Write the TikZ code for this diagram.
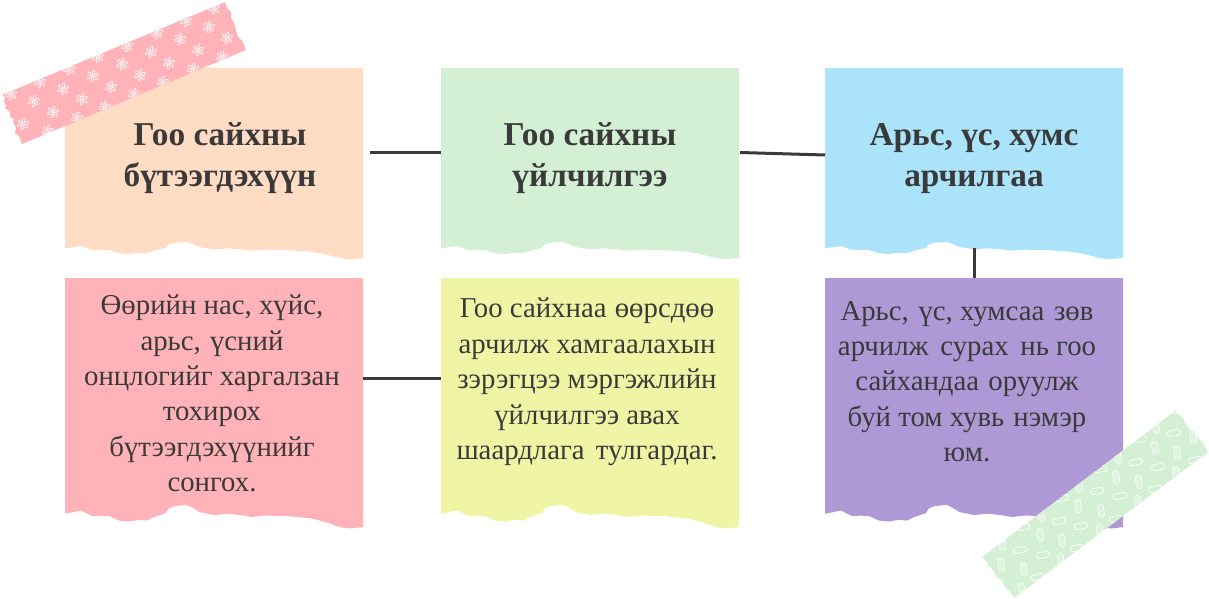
\documentclass[tikz,border=0pt]{standalone}
\usepackage{fontspec}
\setmainfont{Liberation Serif}
\definecolor{peach}{HTML}{FFDCC3}
\definecolor{mint}{HTML}{D4F0D4}
\definecolor{sky}{HTML}{ABE4FA}
\definecolor{rosy}{HTML}{FFB3B8}
\definecolor{lemon}{HTML}{F0F5A5}
\definecolor{lilac}{HTML}{AE98D6}
\definecolor{ink}{HTML}{3A3A3A}
\tikzset{
  boxnode/.style={rectangle,inner sep=0pt,minimum width=298pt,minimum height=#1,anchor=north west},
  headtext/.style={text=ink,align=center,inner sep=0pt,font=\fontsize{33.3}{41}\selectfont\bfseries},
  bodytext/.style={text=ink,align=center,inner sep=0pt,font=\fontsize{28.8}{35.4}\selectfont},
  link/.style={draw=ink,line width=3pt},
  petal/.style={draw=white,line width=0.55pt},
  pillh/.style={draw=white,line width=0.7pt,rounded corners=2.8pt},
}
% torn paper: x, top, peak y of the torn edge, vertical scale, colour
\newcommand{\tornpaper}[5]{%
  \pgfmathsetmacro{\tornTop}{(#2-#3)/#4}
  \begin{scope}[shift={(#1,#3)},yscale=#4]
    \fill[#5] (0,\tornTop) -- (298,\tornTop) -- (298,16) -- (286,17) -- (276,16.3) -- (259,12) -- (246,9.7) -- (222,8) -- (199,7.7) -- (187,8.7) -- (176,7.3) -- (162,6.3) -- (149,7.3) -- (143,6.3) -- (135,5.3) -- (130,3) -- (122,0) -- (110,0.7) -- (104,2.3) -- (100.7,6) -- (89,8.7) -- (82,11.3) -- (74,10.7) -- (64,12) -- (54,11.3) -- (44,8) -- (35.7,7.7) -- (27.3,8) -- (20.7,5.7) -- (15.7,4) -- (7.3,5.3) -- (0,6.3) -- cycle;
  \end{scope}}
\newcommand{\flowerat}[2]{%
  \begin{scope}[shift={(#1,#2)},rotate=20]
    \foreach \a in {0,60,...,300}{\draw[petal,rotate=\a] (3.5,0) ellipse (2.5 and 1.2);}
  \end{scope}}
\newcommand{\pillflat}[2]{%
  \draw[pillh,rotate around={10:(#1,#2)}] (#1-6.5,#2-3) rectangle (#1+6.5,#2+3);}
\newcommand{\pillup}[2]{%
  \begin{scope}[shift={(#1,#2)},rotate=10]
    \draw[pillh] (-3,-6.5) rectangle (3,6.5);
    \draw[white,line width=0.5pt] (-2,-3.5)--(2,-4.5) (-2,-1)--(2,-2) (-2,1.5)--(2,0.5) (-2,4)--(2,3);
  \end{scope}}
\begin{document}
\begin{tikzpicture}[x=1pt,y=-1pt]
\useasboundingbox (0,0) rectangle (1209,599);
\tornpaper{65}{68}{242}{1}{peach}
\tornpaper{441}{68}{242}{1}{mint}
\tornpaper{825}{68}{242}{1}{sky}
\tornpaper{65}{278}{505}{1.38}{rosy}
\tornpaper{441}{278}{505}{1.38}{lemon}
\tornpaper{825}{278}{505}{1.38}{lilac}
\node[boxnode=190pt] (a) at (65,68) {};
\node[boxnode=190pt] (b) at (441,68) {};
\node[boxnode=190pt] (c) at (825,68) {};
\node[boxnode=248pt] (d) at (65,278) {};
\node[boxnode=248pt] (e) at (441,278) {};
\node[boxnode=248pt] (f) at (825,278) {};
\coordinate (ab) at (370,152.5);
\coordinate (bc) at (740,152.5);
\coordinate (cr) at (825,155);
\coordinate (cf) at (974.5,248);
\coordinate (de) at (363,378.5);
\draw[link] (ab) -- (ab -| b.west);
\draw[link] (bc) -- (cr);
\draw[link] (cf) -- (cf |- f.north);
\draw[link] (de) -- (de -| e.west);
\node[headtext] (ta) at (220,158.5) {Гоо сайхны\\бүтээгдэхүүн};
\node[headtext] (tb) at (590,158.5) {Гоо сайхны\\үйлчилгээ};
\node[headtext] (tc) at (974,158.5) {Арьс, үс, хумс\\арчилгаа};
\node[bodytext] (td) at (212,393.5) {Өөрийн нас, хүйс,\\арьс,\hspace{2pt} үсний\\онцлогийг харгалзан\\тохирох\\бүтээгдэхүүнийг\\сонгох.};
\node[bodytext] (te) at (587,382) {Гоо сайхнаа\hspace{1pt} өөрсдөө\\арчилж хамгаалахын\\зэрэгцээ мэргэжлийн\\үйлчилгээ авах\\шаардлага\hspace{4pt} тулгардаг.};
\node[bodytext] (tf) at (967,381.5) {Арьс,\hspace{2.5pt} үс, хумсаа\hspace{2.5pt} зөв\\арчилж\hspace{4.5pt} сурах\hspace{4.5pt} нь гоо\\сайхандаа\hspace{2pt} оруулж\\буй том хувь\hspace{2pt} нэмэр\\юм.};
% pink tape
\def\pinktape{(2,95) -- (5,97) -- (4,101) -- (6,106) -- (5,108) -- (10,112) -- (10,117) -- (14,119) -- (13,123) -- (16,127) -- (15,133) -- (19,136) -- (22,144) -- (246,50) -- (243,42) -- (238,37) -- (236,31) -- (234,23) -- (231,18) -- (231,12) -- (227,8) -- (225,2) -- cycle}
\fill[rosy] \pinktape;
\begin{scope}
  \clip \pinktape;
  \foreach \x/\y in {11/94,40/82,69/69,98/57,127/46,157/33,186/21,214/8,
    34/101,63/89,93/76,122/64,151/52,180/39,209/27,
    23/124,53/112,82/99,111/87,140/75,169/63,198/50,227/38,
    48/131,77/118,105/107,134/94,163/82,193/69,222/57}{\flowerat{\x}{\y}}
\end{scope}
% green tape
\def\greentape{(982,557) -- (987,562) -- (987,565) -- (991,568) -- (994,572) -- (997,578) -- (1002,580) -- (1005,587) -- (1010,592) -- (1014,598) -- (1208,452) -- (1203,443) -- (1197,437) -- (1195,432) -- (1190,430) -- (1185,423) -- (1183,418) -- (1175,411) -- cycle}
\fill[mint] \greentape;
\begin{scope}
  \clip \greentape;
  \foreach \x/\y in {1020/550,1059/521,1097/491,1136/462,1174/433,
    1043/555,1081/526,1120/496,1158/467,
    1038/577,1077/548,1116/519,1155/489,1195/460,
    1023/527,1062/498,1100/469,1140/439,1178/410}{\pillflat{\x}{\y}}
  \foreach \x/\y in {1001/565,1040/535,1078/506,1116/477,1155/448,1193/437,
    1024/569,1062/540,1101/511,1139/482,1177/453,
    1002/544,1041/515,1079/486,1118/457,1156/427,
    1022/590,1061/560,1100/531,1138/502,1176/473}{\pillup{\x}{\y}}
\end{scope}
\end{tikzpicture}
\end{document}
